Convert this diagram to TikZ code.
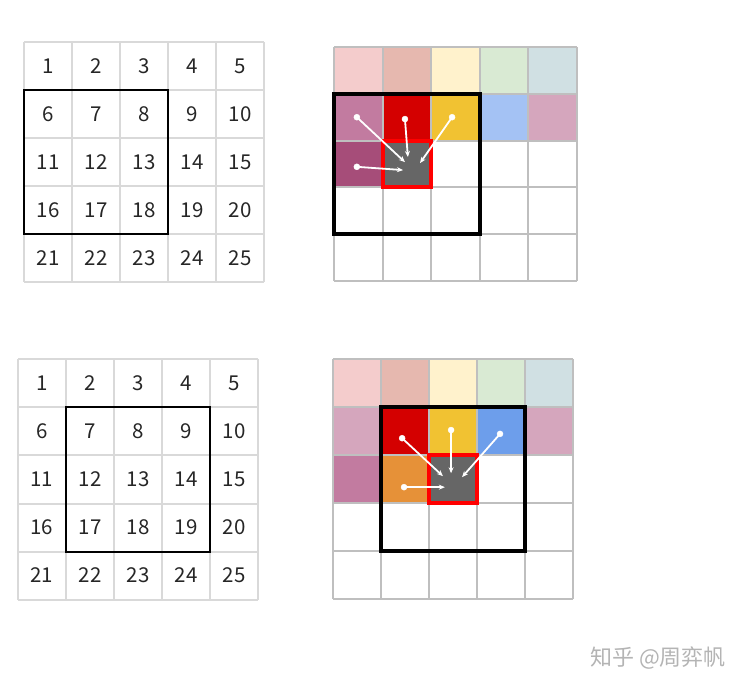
\documentclass[tikz,border=0pt]{standalone}
\usepackage{fontspec}
\setmainfont{Noto Sans CJK SC}
\newfontfamily\cjk{Noto Sans CJK SC}
\definecolor{lgrid}{HTML}{D9D9D9}
\definecolor{rgrid}{HTML}{BFBFBF}
\definecolor{pinkA}{HTML}{F4CCCC}
\definecolor{pinkB}{HTML}{E6B8AF}
\definecolor{creamC}{HTML}{FFF2CC}
\definecolor{greenD}{HTML}{D9EAD3}
\definecolor{blueE}{HTML}{D0E0E3}
\definecolor{mauveA}{HTML}{C27BA0}
\definecolor{mauveB}{HTML}{D5A6BD}
\definecolor{plumA}{HTML}{A64D79}
\definecolor{redA}{HTML}{D40000}
\definecolor{goldA}{HTML}{F1C232}
\definecolor{skyA}{HTML}{A4C2F4}
\definecolor{skyB}{HTML}{6D9EEB}
\definecolor{orangeA}{HTML}{E69138}
\definecolor{darkA}{HTML}{666666}
\definecolor{markgray}{HTML}{B4B4B4}
\tikzset{
  num/.style={font=\fontsize{20.5}{22}\selectfont, text=black!85, text height=14pt, text depth=0pt},
  ray/.style={-{Stealth[length=6pt,width=5pt]}, white, line width=1.8pt},
  raydot/.style={white, fill=white}
}
\usetikzlibrary{arrows.meta}

\begin{document}
\begin{tikzpicture}[>=stealth, x=1pt, y=-1pt]
\useasboundingbox (0,0) rectangle (748,691);

% top left: numbers, 3x3 box at 6
\begin{scope}[shift={(24,42)}, x=48pt, y=-48pt]
\foreach \r in {0,...,4} \foreach \c in {0,...,4} {
  \pgfmathtruncatemacro\n{5*\r+\c+1}
  \node[num] (tl\n) at (\c+0.5,\r+0.5) {\n};
}
\foreach \i in {0,...,5} {
  \draw[lgrid, line width=2pt] (\i,0) -- (\i,5);
  \draw[lgrid, line width=2pt] (0,\i) -- (5,\i);
}
\draw[line width=2.5pt] (0,1) rectangle (3,4);
\end{scope}

% top right: colours, centre cell 12
\begin{scope}[shift={(334,47)}, x=48.6pt, y=-46.8pt]
\fill[pinkA] (0,0) rectangle (1,1);
\fill[pinkB] (1,0) rectangle (2,1);
\fill[creamC] (2,0) rectangle (3,1);
\fill[greenD] (3,0) rectangle (4,1);
\fill[blueE] (4,0) rectangle (5,1);
\fill[mauveA] (0,1) rectangle (1,2);
\fill[redA] (1,1) rectangle (2,2);
\fill[goldA] (2,1) rectangle (3,2);
\fill[skyA] (3,1) rectangle (4,2);
\fill[mauveB] (4,1) rectangle (5,2);
\fill[plumA] (0,2) rectangle (1,3);
\fill[darkA] (1,2) rectangle (2,3);
\foreach \i in {0,...,5} {
  \draw[rgrid, line width=2pt] (\i,0) -- (\i,5);
  \draw[rgrid, line width=2pt] (0,\i) -- (5,\i);
}
\draw[red, line width=4pt] (1,2) rectangle (2,3);
\draw[line width=3.5pt] (0,1) rectangle (3,4);
\coordinate (ta1) at (0.47,1.50); \coordinate (ha1) at (1.46,2.46);
\coordinate (ta2) at (1.46,1.54); \coordinate (ha2) at (1.52,2.35);
\coordinate (ta3) at (2.43,1.50); \coordinate (ha3) at (1.77,2.48);
\coordinate (ta4) at (0.47,2.56); \coordinate (ha4) at (1.42,2.63);
\foreach \k in {1,...,4} {
  \draw[ray] (ta\k) -- (ha\k);
  \draw[raydot] (ta\k) circle [radius=3pt];
}
\end{scope}

% bottom left: numbers, 3x3 box at 7
\begin{scope}[shift={(18,359)}, x=48pt, y=-48.2pt]
\foreach \r in {0,...,4} \foreach \c in {0,...,4} {
  \pgfmathtruncatemacro\n{5*\r+\c+1}
  \node[num] (bl\n) at (\c+0.5,\r+0.5) {\n};
}
\foreach \i in {0,...,5} {
  \draw[lgrid, line width=2pt] (\i,0) -- (\i,5);
  \draw[lgrid, line width=2pt] (0,\i) -- (5,\i);
}
\draw[line width=2.5pt] (1,1) rectangle (4,4);
\end{scope}

% bottom right: colours, centre cell 13
\begin{scope}[shift={(333,359)}, x=48pt, y=-48pt]
\fill[pinkA] (0,0) rectangle (1,1);
\fill[pinkB] (1,0) rectangle (2,1);
\fill[creamC] (2,0) rectangle (3,1);
\fill[greenD] (3,0) rectangle (4,1);
\fill[blueE] (4,0) rectangle (5,1);
\fill[mauveB] (0,1) rectangle (1,2);
\fill[redA] (1,1) rectangle (2,2);
\fill[goldA] (2,1) rectangle (3,2);
\fill[skyB] (3,1) rectangle (4,2);
\fill[mauveB] (4,1) rectangle (5,2);
\fill[mauveA] (0,2) rectangle (1,3);
\fill[orangeA] (1,2) rectangle (2,3);
\fill[darkA] (2,2) rectangle (3,3);
\foreach \i in {0,...,5} {
  \draw[rgrid, line width=2pt] (\i,0) -- (\i,5);
  \draw[rgrid, line width=2pt] (0,\i) -- (5,\i);
}
\draw[red, line width=4pt] (2,2) rectangle (3,3);
\draw[line width=3.5pt] (1,1) rectangle (4,4);
\coordinate (tb1) at (1.44,1.65); \coordinate (hb1) at (2.29,2.44);
\coordinate (tb2) at (2.46,1.48); \coordinate (hb2) at (2.46,2.38);
\coordinate (tb3) at (3.48,1.56); \coordinate (hb3) at (2.69,2.46);
\coordinate (tb4) at (1.48,2.67); \coordinate (hb4) at (2.33,2.67);
\foreach \k in {1,...,4} {
  \draw[ray] (tb\k) -- (hb\k);
  \draw[raydot] (tb\k) circle [radius=3pt];
}
\end{scope}

\node[markgray, font=\cjk\fontsize{22}{24}\selectfont] (mark) at (658,658) {知乎 @周弈帆};
\end{tikzpicture}
\end{document}
